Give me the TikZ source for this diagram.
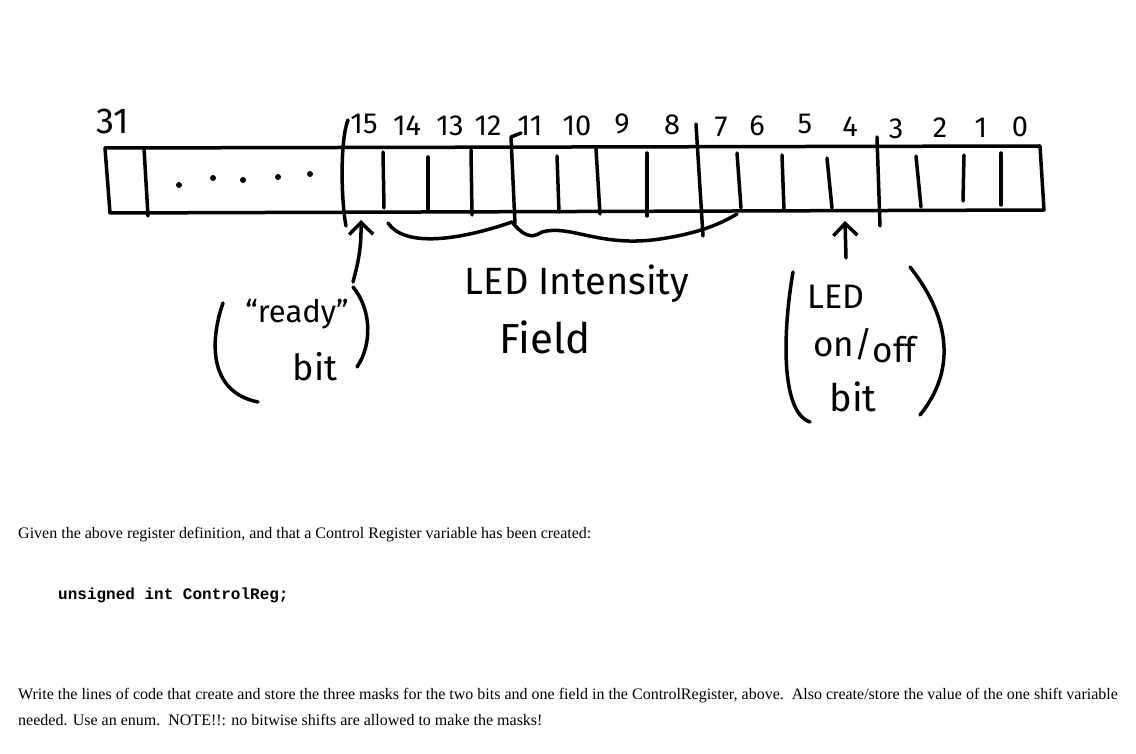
\documentclass[tikz,border=0pt]{standalone}
\usepackage{fontspec}
\setmainfont{Liberation Serif}
\setmonofont{Liberation Mono}
\newfontfamily\handfont{Fira Sans}
\usetikzlibrary{arrows.meta}

\tikzset{
  ink/.style={line width=3.5pt, line cap=round, line join=round},
  tip/.style={-{Straight Barb[length=12pt,width=24pt]}},
  bitnum/.style={font=\handfont\fontsize{29}{30}\selectfont, inner sep=0pt},
  hand/.style={font=\handfont\fontsize{#1}{#1}\selectfont, inner sep=0pt},
  hand/.default=32,
  prose/.style={anchor=base west, font=\fontsize{16}{18}\selectfont, inner sep=0pt}
}

\begin{document}
\begin{tikzpicture}[x=1pt, y=-1pt]
\useasboundingbox (0,0) rectangle (1136,754);

  \coordinate (tl) at (105,148);
  \coordinate (tr) at (1040,146);
  \coordinate (br) at (1044,210);
  \coordinate (bl) at (110,213);

  \node[bitnum, font=\handfont\fontsize{36}{36}\selectfont] (n31) at (113,121) {31};
  \node[bitnum] (n15) at (364,124) {15};
  \node[bitnum] (n14) at (407,126) {14};
  \node[bitnum] (n13) at (450,126) {13};
  \node[bitnum] (n12) at (488,126) {12};
  \node[bitnum] (n11) at (530,126) {11};
  \node[bitnum] (n10) at (577,126) {10};
  \node[bitnum] (n9)  at (622,124) {9};
  \node[bitnum] (n8)  at (672,125) {8};
  \node[bitnum] (n7)  at (721,127) {7};
  \node[bitnum] (n6)  at (757,126) {6};
  \node[bitnum] (n5)  at (805,124) {5};
  \node[bitnum] (n4)  at (850,127) {4};
  \node[bitnum] (n3)  at (896,129) {3};
  \node[bitnum] (n2)  at (940,128) {2};
  \node[bitnum] (n1)  at (981,128) {1};
  \node[bitnum] (n0)  at (1020,127) {0};

  \draw[ink] (tl) -- (tr) -- (br) -- (bl) -- cycle;
  \draw[ink] (144,148) -- (148,216);
  \draw[ink] (348,120) .. controls (340,140) and (341,200) .. (346,226);
  \draw[ink] (383,152) -- (384,208);
  \draw[ink] (428,157) -- (428,209);
  \draw[ink] (471,150) -- (472,215);
  \draw[ink] (521,133) -- (511,137) -- (515,224);
  \draw[ink] (557,156) -- (559,212);
  \draw[ink] (596,149) -- (600,214);
  \draw[ink] (647,153) -- (647,216);
  \draw[ink] (696,124) -- (703,236);
  \draw[ink] (737,153) -- (741,208);
  \draw[ink] (782,155) -- (784,210);
  \draw[ink] (827,158) -- (832,208);
  \draw[ink] (877,137) -- (880,226);
  \draw[ink] (916,156) -- (921,207);
  \draw[ink] (964,155) -- (963,201);
  \draw[ink] (1001,153) -- (1001,205);

  \foreach \dx/\dy in {179/185, 213/178, 243/180, 278/177, 310/174}
    \fill (\dx,\dy) circle (3pt);

  \draw[ink] (388,223) .. controls (405,248) and (460,240) .. (512,222)
    .. controls (522,234) and (530,240) .. (542,232)
    .. controls (570,224) and (600,248) .. (660,239)
    .. controls (700,233) and (720,224) .. (737,214);

  \node[hand=31] (rdy)    at (297,314) {“ready”};
  \node[hand=36] (rdybit) at (315,367) {bit};
  \draw[ink] (223,303) .. controls (210,340) and (208,392) .. (258,402);
  \draw[ink] (353,287) .. controls (372,310) and (372,345) .. (357,367);
  \coordinate (rdytail) at (353,282);
  \coordinate (b15) at (361,220);
  \draw[ink, tip] (rdytail) to[bend right=8] (b15);

  \node[hand=38] (led)   at (577,284) {LED Intensity};
  \node[hand=42] (field) at (545,337) {Field};

  \node[hand=34] (onled) at (836,297) {LED};
  \node[hand=35] (onoff) at (865,346) {on/\raisebox{-6pt}{off}};
  \node[hand=38] (onbit) at (853,397) {bit};
  \draw[ink] (793,272) .. controls (783,330) and (780,412) .. (810,422);
  \draw[ink] (910,267) .. controls (952,320) and (955,372) .. (920,415);
  \coordinate (ontail) at (846,258);
  \coordinate (b4) at (845,221);
  \draw[ink, tip] (ontail) -- (b4);

  \node[prose] (given) at (18,538) {Given the above register definition, and that a Control Register variable has been created:};
  \node[prose, font=\ttfamily\bfseries\fontsize{16}{18}\selectfont] (decl) at (58,599) {unsigned int ControlReg;};
  \node[prose] (task1) at (18,699) {Write the lines of code that create and store the three masks for the two bits and one field in the ControlRegister, above.\ \ Also create/store the value of the one shift variable};
  \node[prose] (task2) at (18,725) {needed. Use an enum.\ \ NOTE!!: no bitwise shifts are allowed to make the masks!};
\end{tikzpicture}
\end{document}
